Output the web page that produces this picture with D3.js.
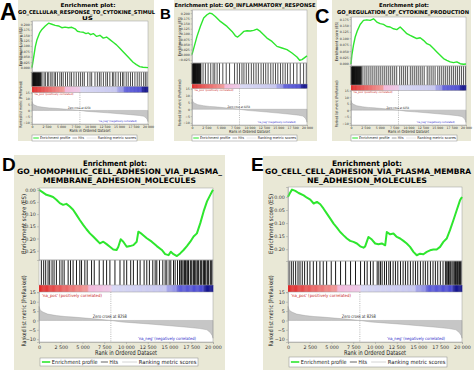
<!DOCTYPE html>
<html><head><meta charset="utf-8">
<script src="https://cdn.jsdelivr.net/npm/d3@7"></script>
<style>body{margin:0;background:#fff}svg{display:block}</style>
</head><body>
<svg id="c" width="474" height="379"></svg>
<script>
// ---------- shared data ----------
const xTickValues = [0,2500,5000,7500,10000,12500,15000,17500,20000];
const xTickLabels = ["0","2 500","5 000","7 500","10 000","12 500","15 000","17 500","20 000"];
const rankTickValues = [15,10,5,0,-5,-10];
const rankDomain = [-11.5,15.2];
const zeroCross = 8258;
const metricRanks  = [0,150,450,1000,2000,3000,4000,5000,6000,7000,8258,9500,11000,13000,15000,17000,18500,19300,19700,19900,20000];
const metricValues = [7.5,5.5,4.5,3.4,2.6,2.1,1.8,1.4,1.0,0.6,0,-0.8,-1.3,-2.0,-2.8,-3.6,-4.3,-5.0,-6.5,-8.0,-9.5];
const heatRanks  = [0,5600,5700,8300,8400,14600,14800,15800,15900,18900,19000,20000];
const heatColors = ['#e02828','#f29a9a','#f3b5da','#eecbea','#d8d8f6','#c6c6f2','#a2a2ea','#9292e6','#6060dc','#4848d2','#1a1a96','#0e0e88'];
const legendLabels = ["Enrichment profile","Hits","Ranking metric scores"];

// ---------- panel A ----------
const titleA = ["Enrichment plot:","GO_CELLULAR_RESPONSE_TO_CYTOKINE_STIMUL","US"];
const esTicksA = [0,0.025,0.05,0.075,0.1,0.125,0.15,0.175,0.2];
const esRanksA  = [0,290,570,860,1310,1710,2290,2860,3430,4000,4570,5140,5710,6290,6860,7430,7830,8290,8860,9310,9710,10110,10570,11140,11710,12290,12860,13430,14000,14570,15140,15710,16290,16860,17430,18000,18570,19140,20000];
const esValuesA = [0,0.049,0.097,0.129,0.160,0.176,0.192,0.205,0.200,0.195,0.192,0.184,0.187,0.184,0.186,0.179,0.168,0.165,0.163,0.157,0.160,0.152,0.157,0.144,0.149,0.136,0.141,0.129,0.117,0.105,0.089,0.073,0.057,0.041,0.025,0.014,0.005,0.002,0];
const hitsA = [20,80,140,200,260,320,380,440,500,560,620,690,760,830,900,970,1040,1110,1180,1250,1320,1400,1480,1560,1730,2080,2310,2660,2890,3240,3470,3820,4050,4390,4800,5090,5380,5780,6130,6530,6820,7230,7630,8040,8380,8730,9020,9600,10000,10290,10860,11270,11620,11910,12310,12720,13010,13420,13870,14100,14450,14860,15260,15600,15840,16240,16590,16990,17330,17740,18140,18490,18840,19250,19540,19830];

// ---------- panel B ----------
const titleB = ["Enrichment plot: GO_INFLAMMATORY_RESPONSE"];
const esTicksB = [-0.025,0,0.025,0.05,0.075,0.1,0.125,0.15,0.175,0.2];
const esRanksB  = [0,870,1450,2030,2610,3070,3480,4060,4930,6090,6960,7540,7940,8410,8990,9570,10140,10720,11300,11880,12460,13040,13910,14780,15650,16520,17390,18260,18720,19130,20000];
const esValuesB = [0,0.088,0.136,0.176,0.192,0.200,0.197,0.184,0.160,0.136,0.112,0.091,0.085,0.096,0.112,0.115,0.114,0.117,0.123,0.112,0.096,0.080,0.064,0.040,0.032,0.024,0.008,-0.011,-0.027,-0.024,-0.006];
const hitsB = [20,80,140,200,260,320,380,440,500,560,620,690,760,830,900,970,1040,1110,1180,1250,1320,1400,1480,1560,1920,2330,2800,3260,3670,3960,4370,4780,5360,5950,6530,7400,7870,8270,8690,9030,9440,9850,10320,10730,11140,11540,12010,12420,12820,13230,13700,14110,14520,14930,15390,15800,16210,16620,17080,17660,18250,18830,19410,19880];

// ---------- panel C ----------
const titleC = ["Enrichment plot:","GO_REGULATION_OF_CYTOKINE_PRODUCTION"];
const esTicksC = [0,0.025,0.05,0.075,0.1,0.125,0.15,0.175];
const esRanksC  = [0,150,430,730,1130,1590,2170,2750,3330,3910,4200,4490,5070,5650,6230,6810,7390,7970,8550,9130,9710,10290,10870,11450,12030,12610,13190,13770,14350,14930,15510,16090,16670,17250,17830,18410,18990,19570,20000];
const esValuesC = [0,0.034,0.073,0.105,0.131,0.154,0.170,0.172,0.170,0.176,0.170,0.163,0.157,0.154,0.146,0.144,0.137,0.134,0.144,0.131,0.118,0.111,0.105,0.099,0.102,0.092,0.079,0.073,0.060,0.047,0.034,0.021,0.014,0.008,0.005,0.008,0.001,-0.001,0];
const hitsC = [20,80,140,200,260,320,380,440,500,560,620,690,760,830,900,970,1040,1110,1180,1250,1320,1400,1480,1560,1640,1720,1800,2070,2420,2760,3110,3460,3800,4150,4490,4840,5180,5530,5870,6220,6570,6910,7260,7600,7950,8470,8810,9160,9500,9850,10310,10650,11000,11350,11690,12040,12380,12730,13250,13590,13940,14280,14630,15090,15430,15780,16130,16470,16820,17160,17510,17850,18200,18540,18890,19230,19580,19920];

// ---------- panel D ----------
const titleD = ["Enrichment plot:","GO_HOMOPHILIC_CELL_ADHESION_VIA_PLASMA_","MEMBRANE_ADHESION_MOLECULES"];
const esTicksD = [0,-0.05,-0.1,-0.15,-0.2,-0.25];
const esRanksD  = [0,270,850,1230,1620,2000,2390,2770,3150,3540,3920,4310,4690,5080,5460,5850,6230,6620,7000,7390,7770,8150,8540,8920,9120,9390,9690,10080,10460,10850,11230,11420,11810,12390,12960,13540,14120,14500,14890,15150,15460,15850,16230,16620,17000,17390,17770,18150,18540,18920,19310,19690,20000];
const esValuesD = [0,-0.007,-0.021,-0.025,-0.030,-0.041,-0.055,-0.062,-0.058,-0.069,-0.082,-0.103,-0.124,-0.144,-0.162,-0.179,-0.192,-0.206,-0.220,-0.213,-0.223,-0.234,-0.245,-0.247,-0.234,-0.203,-0.213,-0.234,-0.231,-0.227,-0.213,-0.172,-0.181,-0.199,-0.213,-0.231,-0.247,-0.264,-0.268,-0.254,-0.264,-0.272,-0.261,-0.247,-0.231,-0.213,-0.192,-0.179,-0.137,-0.089,-0.048,-0.021,0];
const hitsD = [270,540,770,1040,1230,1500,1730,2000,2390,2650,2890,3350,3620,3920,4310,4690,4890,5270,5540,6040,6350,6920,7390,7770,8150,8730,9310,9770,10080,10540,10850,11310,11620,12080,12390,12690,13080,13350,13540,13850,14230,14500,14690,14960,15150,15460,15650,15920,16150,16310,16400,16540,16690,16760,16850,17000,17100,17190,17390,17480,17580,17770,17860,17960,18150,18250,18350,18540,18640,18730,18920,19020,19120,19310,19400,19500,19690,19790,19890];

// ---------- panel E ----------
const titleE = ["Enrichment plot:","GO_CELL_CELL_ADHESION_VIA_PLASMA_MEMBRA","NE_ADHESION_MOLECULES"];
const esTicksE = [0,-0.05,-0.1,-0.15,-0.2];
const esRanksE  = [0,190,460,840,1220,1800,2180,2560,2950,3330,3710,4090,4470,4860,5240,5620,6000,6390,6770,7150,7530,7920,8300,8680,8870,9250,9640,10020,10400,10780,11170,11360,11740,12120,12510,12890,13270,13650,14030,14420,14800,15180,15560,15950,16330,16710,17090,17480,17860,18240,18620,19010,19390,19770,20000];
const esValuesE = [0,0.013,0.028,0.023,0.015,0.006,-0.003,-0.010,-0.025,-0.019,-0.028,-0.045,-0.064,-0.083,-0.102,-0.117,-0.134,-0.147,-0.159,-0.168,-0.172,-0.178,-0.189,-0.194,-0.189,-0.153,-0.163,-0.178,-0.181,-0.178,-0.185,-0.134,-0.143,-0.140,-0.153,-0.159,-0.168,-0.178,-0.191,-0.210,-0.223,-0.217,-0.219,-0.210,-0.204,-0.201,-0.201,-0.191,-0.172,-0.159,-0.127,-0.089,-0.051,-0.013,0];
const hitsE = [120,380,610,880,1150,1380,1640,1910,2220,2520,2910,3290,3670,4050,4440,4970,5470,6040,6620,7190,7760,8340,8800,9100,9480,9790,10250,10440,10630,10820,11090,11320,11590,11780,12080,12350,12620,12930,13230,13500,13770,14070,14380,14650,14910,15220,15530,15790,16060,16370,16670,16940,17210,17510,17820,18090,18200,18360,18450,18590,18700,18850,18980,19120,19250,19350,19480,19620,19720,19810,19900];

// ---------- drawing ----------
const BG = '#e9e8d6';
const FONT = "'DejaVu Sans', 'Liberation Sans', sans-serif";
const svg = d3.select('#c');

function drawPanel(p) {
  const s = p.s;
  const g = svg.append('g');
  g.append('rect').attr('x',p.bg[0]).attr('y',p.bg[1])
    .attr('width',p.bg[2]-p.bg[0]).attr('height',p.bg[3]-p.bg[1]).attr('fill',BG);

  p.titles.forEach((t,i) => g.append('text')
    .attr('x',p.titlePos[i][0]).attr('y',p.titlePos[i][1]).attr('text-anchor','middle')
    .attr('font-family',FONT).attr('font-weight','bold').attr('font-size',p.titleSize)
    .attr('textLength',p.titlePos[i][2]).attr('lengthAdjust','spacingAndGlyphs').text(t));

  const x = d3.scaleLinear().domain([0,20000]).range([p.x0,p.x1]);
  const yES = d3.scaleLinear().domain(p.esDomain).range([p.esBot,p.esTop]);
  const yR = d3.scaleLinear().domain(rankDomain).range([p.rankBot,p.heatBot]);

  // white plot areas
  g.append('rect').attr('x',p.x0).attr('y',p.esTop).attr('width',p.x1-p.x0).attr('height',p.hitsBot-p.esTop).attr('fill','#fff');
  g.append('rect').attr('x',p.x0).attr('y',p.heatBot).attr('width',p.x1-p.x0).attr('height',p.rankBot-p.heatBot).attr('fill','#fff');

  // hits
  g.selectAll(null).data(p.hits).join('line')
    .attr('x1',d=>x(d)).attr('x2',d=>x(d)).attr('y1',p.esBot).attr('y2',p.hitsBot)
    .attr('stroke','#000').attr('stroke-width',p.hitW);

  // heat bar
  const heat = d3.scaleLinear().domain(heatRanks).range(heatColors);
  const segs = d3.range(0,20000,100);
  g.selectAll(null).data(segs).join('rect')
    .attr('x',d=>x(d)).attr('width',d=>x(d+100)-x(d)+0.3)
    .attr('y',p.hitsBot).attr('height',p.heatBot-p.hitsBot).attr('fill',d=>heat(d+50));

  // ranked metric
  const area = d3.area().x(d=>x(d[0])).y0(yR(0)).y1(d=>yR(d[1]));
  g.append('path').datum(d3.zip(metricRanks,metricValues)).attr('d',area)
    .attr('fill','#c6c6c6').attr('stroke','#9a9a9a').attr('stroke-width',0.4);
  g.append('line').attr('x1',x(zeroCross)).attr('x2',x(zeroCross))
    .attr('y1',p.heatBot).attr('y2',p.rankBot)
    .attr('stroke','#888').attr('stroke-width',0.6).attr('stroke-dasharray','1,1.2');

  // frames
  [[p.esTop,p.esBot],[p.esBot,p.hitsBot],[p.heatBot,p.rankBot]].forEach(r =>
    g.append('rect').attr('x',p.x0).attr('y',r[0]).attr('width',p.x1-p.x0).attr('height',r[1]-r[0])
      .attr('fill','none').attr('stroke','#9c9c9c').attr('stroke-width',0.5));

  // ES curve
  const line = d3.line().x(d=>x(d[0])).y(d=>yES(d[1]));
  g.append('path').datum(d3.zip(p.esRanks,p.esValues)).attr('d',line)
    .attr('fill','none').attr('stroke','#2ee62e').attr('stroke-width',p.lineW)
    .attr('stroke-linejoin','round');

  // axes
  const styleAxis = (ga, fs) => {
    ga.select('.domain').attr('stroke','#999').attr('stroke-width',0.5);
    ga.selectAll('line').attr('stroke','#999').attr('stroke-width',0.5);
    ga.selectAll('text').attr('font-size',fs).attr('font-family',FONT).attr('fill','#333');
  };
  styleAxis(g.append('g').attr('transform',`translate(${p.x0},0)`)
    .call(d3.axisLeft(yES).tickValues(p.esTicks).tickFormat(d3.format(p.esFmt)).tickSize(2*s).tickPadding(1.2*s)), 4.8*s);
  styleAxis(g.append('g').attr('transform',`translate(${p.x0},0)`)
    .call(d3.axisLeft(yR).tickValues(rankTickValues).tickSize(2*s).tickPadding(1.2*s)), 4.8*s);
  styleAxis(g.append('g').attr('transform',`translate(0,${p.rankBot})`)
    .call(d3.axisBottom(x).tickValues(xTickValues).tickFormat((d,i)=>xTickLabels[i]).tickSize(2*s).tickPadding(1.2*s)), 4.8*s);

  // axis titles
  g.append('text').attr('x',(p.x0+p.x1)/2).attr('y',p.rankBot+12.5*s).attr('text-anchor','middle')
    .attr('font-family',FONT).attr('font-size',6.5*s).attr('fill','#222')
    .attr('textLength',62*s).attr('lengthAdjust','spacingAndGlyphs').text('Rank in Ordered Dataset');
  g.append('text').attr('transform',`translate(${p.yTitleX},${(p.esTop+p.esBot)/2}) rotate(-90)`)
    .attr('text-anchor','middle').attr('font-family',FONT).attr('font-size',6*s).attr('fill','#222')
    .attr('textLength',60*s).attr('lengthAdjust','spacingAndGlyphs').text('Enrichment score (ES)');
  g.append('text').attr('transform',`translate(${p.yTitleX},${(p.heatBot+p.rankBot)/2-6*s}) rotate(-90)`)
    .attr('text-anchor','middle').attr('font-family',FONT).attr('font-size',6*s).attr('fill','#222')
    .attr('textLength',71*s).attr('lengthAdjust','spacingAndGlyphs').text('Ranked list metric (PreRanked)');

  // annotations
  g.append('text').attr('x',p.x0+3*s).attr('y',p.heatBot+4.5*s)
    .attr('font-family',FONT).attr('font-size',4.2*s).attr('fill','#c81e1e')
    .attr('textLength',60*s).attr('lengthAdjust','spacingAndGlyphs').text("'na_pos' (positively correlated)");
  g.append('text').attr('x',p.x1-17*s).attr('y',p.rankBot-2.5*s).attr('text-anchor','end')
    .attr('font-family',FONT).attr('font-size',4.2*s).attr('fill','#1e1ec8')
    .attr('textLength',58*s).attr('lengthAdjust','spacingAndGlyphs').text("'na_neg' (negatively correlated)");
  g.append('text').attr('x',x(zeroCross)-1*s).attr('y',yR(0)-2*s).attr('text-anchor','middle')
    .attr('font-family',FONT).attr('font-size',4.6*s).attr('fill','#222')
    .attr('textLength',34*s).attr('lengthAdjust','spacingAndGlyphs').text('Zero cross at ' + zeroCross);

  // legend
  const L = p.legend, lw = L[2]-L[0], ly = (L[1]+L[3])/2;
  g.append('rect').attr('x',L[0]).attr('y',L[1]).attr('width',lw).attr('height',L[3]-L[1])
    .attr('fill','#fff').attr('stroke','#8a8a8a').attr('stroke-width',0.5);
  const items = [
    {c:'#2ee62e', w:1.6*s, a:0.012, b:0.065, t:0.075, tl:0.29},
    {c:'#222',    w:0.7*s, a:0.385, b:0.43,  t:0.44,  tl:0.055},
    {c:'#cfcfcf', w:0.9*s, a:0.52,  b:0.615, t:0.625, tl:0.365}
  ];
  items.forEach((it,i) => {
    g.append('line').attr('x1',L[0]+it.a*lw).attr('x2',L[0]+it.b*lw).attr('y1',ly).attr('y2',ly)
      .attr('stroke',it.c).attr('stroke-width',it.w);
    g.append('text').attr('x',L[0]+it.t*lw).attr('y',ly+1.9*s)
      .attr('font-family',FONT).attr('font-size',5.6*s).attr('fill','#222')
      .attr('textLength',it.tl*lw).attr('lengthAdjust','spacingAndGlyphs').text(legendLabels[i]);
  });

  // panel letter
  g.append('text').attr('x',p.letter[1]).attr('y',p.letter[2]).text(p.letter[0])
    .attr('font-family',"'Liberation Sans', Arial, sans-serif").attr('font-weight','bold')
    .attr('font-size',p.letter[3]).attr('fill','#000');
}

const S = 0.66;
drawPanel({s:S, bg:[18,0,154,141], letter:['A',0,20,23], titles:titleA, titleSize:5.3,
  titlePos:[[88,7.2,55],[86.5,14,137],[87.5,20.3,11]],
  x0:32, x1:148, esTop:21, esBot:72, hitsBot:86.5, heatBot:92.5, rankBot:124,
  esDomain:[-0.02,0.215], esTicks:esTicksA, esFmt:'.3f', esRanks:esRanksA, esValues:esValuesA, hits:hitsA,
  hitW:0.7, lineW:1.4, yTitleX:22, legend:[32,135,137,141]});
drawPanel({s:S, bg:[174,0,317,141], letter:['B',160,18.5,15], titles:titleB, titleSize:5.3,
  titlePos:[[245,7.2,141]],
  x0:192, x1:307, esTop:10, esBot:63, hitsBot:84, heatBot:88.5, rankBot:125,
  esDomain:[-0.04,0.215], esTicks:esTicksB, esFmt:'.3f', esRanks:esRanksB, esValues:esValuesB, hits:hitsB,
  hitW:0.7, lineW:1.4, yTitleX:181, legend:[192,135,297,141]});
drawPanel({s:S, bg:[332,0,471,141], letter:['C',315,23,20], titles:titleC, titleSize:5.3,
  titlePos:[[404,7.2,50],[403,14,132]],
  x0:351, x1:466, esTop:17, esBot:66, hitsBot:85, heatBot:90.5, rankBot:125,
  esDomain:[-0.008,0.183], esTicks:esTicksC, esFmt:'.3f', esRanks:esRanksC, esValues:esValuesC, hits:hitsC,
  hitW:0.7, lineW:1.4, yTitleX:338, legend:[351,135,457,141]});
drawPanel({s:1, bg:[14,155,225,370], letter:['D',2,171,19], titles:titleD, titleSize:7.5,
  titlePos:[[115,165.6,64],[119.5,174.3,205],[119.5,183,153]],
  x0:39, x1:213, esTop:188, esBot:260, hitsBot:285, heatBot:292, rankBot:342,
  esDomain:[-0.288,0.007], esTicks:esTicksD, esFmt:'.2f', esRanks:esRanksD, esValues:esValuesD, hits:hitsD,
  hitW:0.9, lineW:2, yTitleX:26, legend:[40,358,198,366]});
drawPanel({s:1, bg:[263,156,474,370], letter:['E',251,171,19], titles:titleE, titleSize:7.5,
  titlePos:[[367,165.6,70],[368,174.3,206],[367,183,120]],
  x0:288, x1:462, esTop:187, esBot:261, hitsBot:285, heatBot:292, rankBot:342,
  esDomain:[-0.245,0.038], esTicks:esTicksE, esFmt:'.2f', esRanks:esRanksE, esValues:esValuesE, hits:hitsE,
  hitW:0.9, lineW:2, yTitleX:273, legend:[289,357,447,367]});
</script>
</body></html>
